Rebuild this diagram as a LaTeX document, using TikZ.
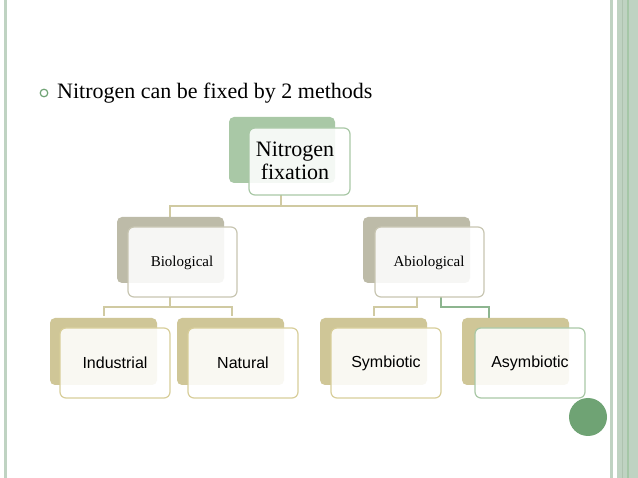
\documentclass[tikz,border=0pt]{standalone}
\usepackage{fontspec}
\setmainfont{Liberation Serif}
\newfontfamily\arialf{Liberation Sans}
\begin{document}
\begin{tikzpicture}[x=1pt,y=-1pt,
  shd/.style={rounded corners=5pt},
  frontbox/.style={draw,line width=1.2pt,rounded corners=6pt,fill=white,fill opacity=0.88,text opacity=1},
  conn/.style={draw=connc,line width=1.1pt}]
\definecolor{gr}{HTML}{A9C8A6}
\definecolor{gy}{HTML}{BDBBA8}
\definecolor{gyb}{HTML}{C8C6B2}
\definecolor{tan}{HTML}{CFC697}
\definecolor{tanb}{HTML}{D8CE9A}
\definecolor{connc}{HTML}{D0CAA2}
\definecolor{frame}{HTML}{BFD3C2}
\definecolor{dgreen}{HTML}{6FA374}
\definecolor{lgreen}{HTML}{8DB58F}
\useasboundingbox (0,0) rectangle (638,478);
\fill[white] (0,0) rectangle (638,478);
% frame
\fill[frame] (4,0) rectangle (7,478);
\fill[frame] (610,0) rectangle (613,478);
\fill[frame] (617,0) rectangle (638,478);
\fill[gr!80!black,opacity=0.3] (622,0) rectangle (623,478);
\fill[green!30!gray,opacity=0.25] (627,0) rectangle (629,478);
\fill[dgreen] (588,417) circle (19);
% title
\draw[dgreen,line width=1.2pt] (44,93) circle (3.8);
\node[anchor=west,font=\fontsize{22}{26}\selectfont,inner sep=0] (title) at (57,93) {Nitrogen can be fixed by 2 methods};
% connectors
\coordinate (c0) at (281,206);
\draw[conn] (281,195) -- (c0);
\draw[conn] (170,217) -- (170,206) -- (417,206) -- (417,217);
\draw[conn] (170,297) -- (170,307);
\draw[conn] (104,316) -- (104,307) -- (232,307) -- (232,316);
\draw[conn] (417,297) -- (417,307) -- (374,307) -- (374,316);
\draw[draw=lgreen,line width=1.1pt] (441,297) -- (441,307) -- (489,307) -- (489,318);
% top
\fill[gr,shd] (229,117) rectangle (335,183);
\draw[frontbox,draw=gr] (249,128) rectangle (350,195);
\node[font=\fontsize{22}{23}\selectfont,align=center] (top) at (295,161) {Nitrogen\\fixation};
% level 2
\fill[gy,shd] (117,217) rectangle (224,283);
\draw[frontbox,draw=gyb] (128,227) rectangle (237,297);
\node[font=\fontsize{15}{18}\selectfont] (bio) at (182,263) {Biological};
\fill[gy,shd] (363,217) rectangle (470,283);
\draw[frontbox,draw=gyb] (375,227) rectangle (484,297);
\node[font=\fontsize{15}{18}\selectfont] (abio) at (429,263) {Abiological};
% level 3
\foreach \sx/\fx/\t/\n/\b in {50/60/Industrial/ind/tanb,177/188/Natural/nat/tanb,320/331/Symbiotic/sym/tanb,462/475/Asymbiotic/asy/gr}{
  \fill[tan,shd] (\sx,318) rectangle (\sx+107,385);
  \draw[frontbox,draw=\b] (\fx,328) rectangle (\fx+110,398);
  \node[font=\arialf\fontsize{16}{19}\selectfont] (\n) at (\fx+55,363) {\t};
}
\end{tikzpicture}
\end{document}
